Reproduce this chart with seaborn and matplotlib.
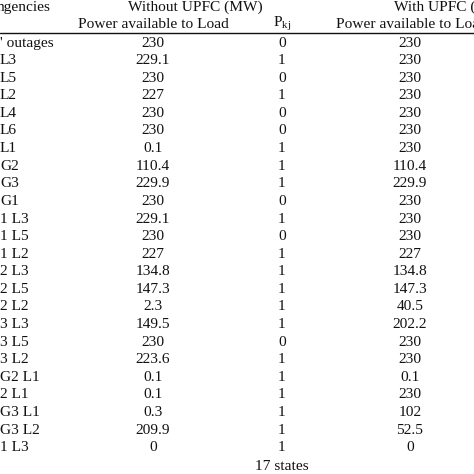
import matplotlib
matplotlib.use("Agg")
import matplotlib.pyplot as plt
import seaborn as sns

# table contents (left column is cropped in the reference)
contingencies = ["' outages", "L3", "L5", "L2", "L4", "L6", "L1", "G2", "G3", "G1",
                 "1 L3", "1 L5", "1 L2", "2 L3", "2 L5", "2 L2", "3 L3", "3 L5",
                 "3 L2", "G2 L1", "2 L1", "G3 L1", "G3 L2", "1 L3"]
without_upfc = ["230", "229.1", "230", "227", "230", "230", "0.1", "110.4", "229.9", "230",
                "229.1", "230", "227", "134.8", "147.3", "2.3", "149.5", "230",
                "223.6", "0.1", "0.1", "0.3", "209.9", "0"]
pkj = ["0", "1", "0", "1", "0", "0", "1", "1", "1", "0",
       "1", "0", "1", "1", "1", "1", "1", "0",
       "1", "1", "1", "1", "1", "1"]
with_upfc = ["230", "230", "230", "230", "230", "230", "230", "110.4", "229.9", "230",
             "230", "230", "227", "134.8", "147.3", "40.5", "202.2", "230",
             "230", "0.1", "230", "102", "52.5", "0"]
footer = "17 states"

sns.set_theme(style="white")
plt.rcParams["font.family"] = ["Liberation Serif", "DejaVu Serif"]

fig = plt.figure(figsize=(4.74, 4.74), dpi=100)
ax = fig.add_axes([0, 0, 1, 1])
ax.set_xlim(0, 474)
ax.set_ylim(474, 0)
ax.axis("off")

fs = 11.1
col = "#111111"
# header texts run past the figure edges, as in the cropped reference
ax.text(-3, 7, "ngencies", ha="left", va="center", fontsize=fs, color=col)
ax.text(195, 7, "Without UPFC (MW)", ha="center", va="center", fontsize=fs, color=col)
ax.text(394, 7, "With UPFC (MW)", ha="left", va="center", fontsize=fs, color=col)
ax.text(153, 24, "Power available to Load", ha="center", va="center", fontsize=fs, color=col)
ax.text(282, 24, r"P$_{\mathregular{kj}}$", ha="center", va="center", fontsize=fs, color=col)
ax.text(336, 24, "Power available to Load", ha="left", va="center", fontsize=fs, color=col)
ax.plot([0, 474], [33, 33], color=col, lw=1.0)

y0, dy = 43, 17.6
for i in range(len(contingencies)):
    y = y0 + i * dy
    ax.text(0, y, contingencies[i], ha="left", va="center", fontsize=fs, color=col)
    ax.text(153, y, without_upfc[i], ha="center", va="center", fontsize=fs, color=col)
    ax.text(282, y, pkj[i], ha="center", va="center", fontsize=fs, color=col)
    ax.text(410, y, with_upfc[i], ha="center", va="center", fontsize=fs, color=col)
ax.text(282, y0 + len(contingencies) * dy + 1, footer, ha="center", va="center", fontsize=fs, color=col)

fig.savefig("out.png", dpi=100)
